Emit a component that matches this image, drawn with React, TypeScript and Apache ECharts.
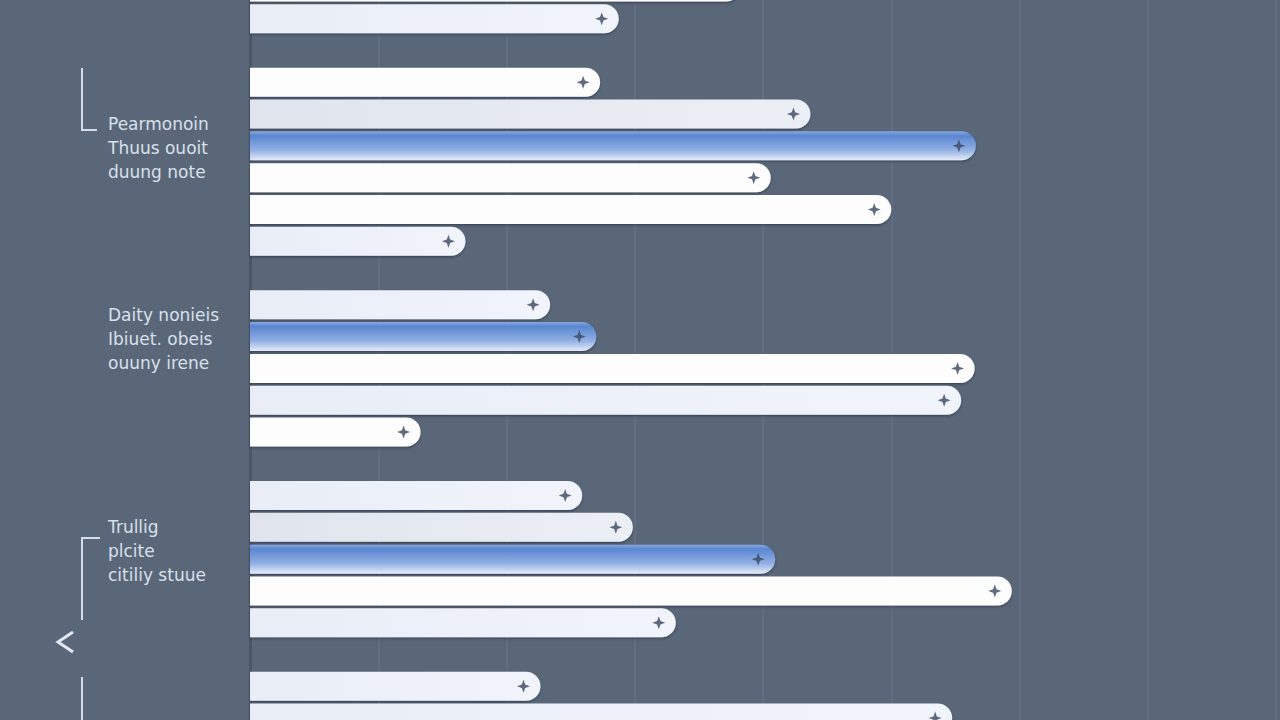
import React, { useEffect, useRef } from "react";
import * as echarts from "echarts";

// Slots on the category axis ("" = gap between groups)
const categories: string[] = [
  "R1", "R2", "", "R3", "R4", "R5", "R6", "R7", "R8", "",
  "R9", "R10", "R11", "R12", "R13", "",
  "R14", "R15", "R16", "R17", "R18", "",
  "R19", "R20",
];
const values: (number | string)[] = [
  76.5, 57.5, "-", 54.6, 87.4, 113.2, 81.2, 100.0, 33.6, "-",
  46.8, 54.0, 113.0, 110.9, 26.6, "-",
  51.8, 59.7, 81.9, 118.8, 66.4, "-",
  45.3, 109.5,
];
// w = white, l = light, g = grey, b = blue highlight
const tones: string[] = [
  "w", "l", "", "w", "g", "b", "w", "w", "l", "",
  "l", "b", "w", "l", "w", "",
  "l", "g", "b", "w", "l", "",
  "l", "l",
];
const xTicks = { min: 0, max: 160, interval: 20 };

const noteBlocks: { lines: string[]; y: number }[] = [
  { lines: ["Pearmonoin", "Thuus ouoit", "duung note"], y: 123 },
  { lines: ["Daity nonieis", "Ibiuet. obeis", "ouuny irene"], y: 314 },
  { lines: ["Trullig", "plcite", "citiliy stuue"], y: 526 },
];

const SHIFT = 29; // chart canvas starts above the page top

const blueGrad = () =>
  new echarts.graphic.LinearGradient(0, 0, 0, 1, [
    { offset: 0, color: "#86a8df" },
    { offset: 0.15, color: "#5a86d0" },
    { offset: 0.65, color: "#92b0e4" },
    { offset: 1, color: "#e6edf9" },
  ]);
const toneColor = (t: string): any => {
  if (t === "b") return blueGrad();
  if (t === "l")
    return new echarts.graphic.LinearGradient(0, 0, 1, 0, [
      { offset: 0, color: "#e9edf6" },
      { offset: 1, color: "#f1f4fa" },
    ]);
  if (t === "g")
    return new echarts.graphic.LinearGradient(0, 0, 1, 0, [
      { offset: 0, color: "#e0e4ec" },
      { offset: 1, color: "#eceff5" },
    ]);
  return "#fdfdfe";
};

export default function App() {
  const ref = useRef<HTMLDivElement>(null);
  useEffect(() => {
    if (!ref.current) return;
    const chart = echarts.init(ref.current, undefined, { renderer: "svg" });
    const barData = values.map((v, i) =>
      v === "-"
        ? "-"
        : {
            value: v,
            itemStyle: { color: toneColor(tones[i]) },
          }
    );
    const lineColor = "#d6dde9";
    const graphics: any[] = [];
    noteBlocks.forEach((b) => {
      b.lines.forEach((t, k) => {
        graphics.push({
          type: "text",
          left: 108,
          top: b.y + k * 24 - 8 + SHIFT,
          style: {
            text: t,
            fill: "#d9e0ec",
            font: "17px 'DejaVu Sans'",
          },
        });
      });
    });
    const S = SHIFT;
    graphics.push(
      { type: "polyline", shape: { points: [[82, 68 + S], [82, 130 + S], [97, 130 + S]] }, style: { stroke: lineColor, lineWidth: 2, fill: null } },
      { type: "polyline", shape: { points: [[100, 538 + S], [82, 538 + S], [82, 620 + S]] }, style: { stroke: lineColor, lineWidth: 2, fill: null } },
      { type: "polyline", shape: { points: [[73, 632 + S], [58, 642 + S], [73, 652 + S]] }, style: { stroke: "#e3e8f0", lineWidth: 3, fill: null } },
      { type: "line", shape: { x1: 82, y1: 677 + S, x2: 82, y2: 722 + S }, style: { stroke: lineColor, lineWidth: 2 } }
    );
    chart.setOption({
      animation: false,
      backgroundColor: "#5a6778",
      grid: { left: 250, right: 4, top: 0, bottom: 0, containLabel: false },
      xAxis: {
        type: "value",
        min: xTicks.min,
        max: xTicks.max,
        interval: xTicks.interval,
        axisLabel: { show: false },
        axisLine: { show: false },
        axisTick: { show: false },
        splitLine: { show: true, lineStyle: { color: "#646f86", width: 1.5 } },
      },
      yAxis: {
        type: "category",
        data: categories,
        inverse: true,
        axisLabel: { show: false },
        axisTick: { show: false },
        axisLine: { show: true, lineStyle: { color: "#4b5666", width: 3 } },
      },
      series: [
        {
          type: "bar",
          data: barData,
          barWidth: 29,
          itemStyle: {
            borderRadius: [0, 14.5, 14.5, 0],
            shadowColor: "rgba(30,40,60,0.55)",
            shadowBlur: 2,
            shadowOffsetY: 1.5,
          },
          z: 2,
        },
        {
          type: "scatter",
          data: values,
          symbol: "path://M0,-10 L2.6,-2.6 L10,0 L2.6,2.6 L0,10 L-2.6,2.6 L-10,0 L-2.6,-2.6 Z",
          symbolSize: 13,
          symbolOffset: [-17, 0],
          itemStyle: { color: "#3a4660" },
          z: 3,
        },
      ],
      graphic: graphics,
    });
    return () => chart.dispose();
  }, []);
  return (
    <div
      ref={ref}
      style={{ position: "fixed", left: 0, top: -SHIFT, width: 1280, height: 763, background: "#5a6778" }}
    />
  );
}
